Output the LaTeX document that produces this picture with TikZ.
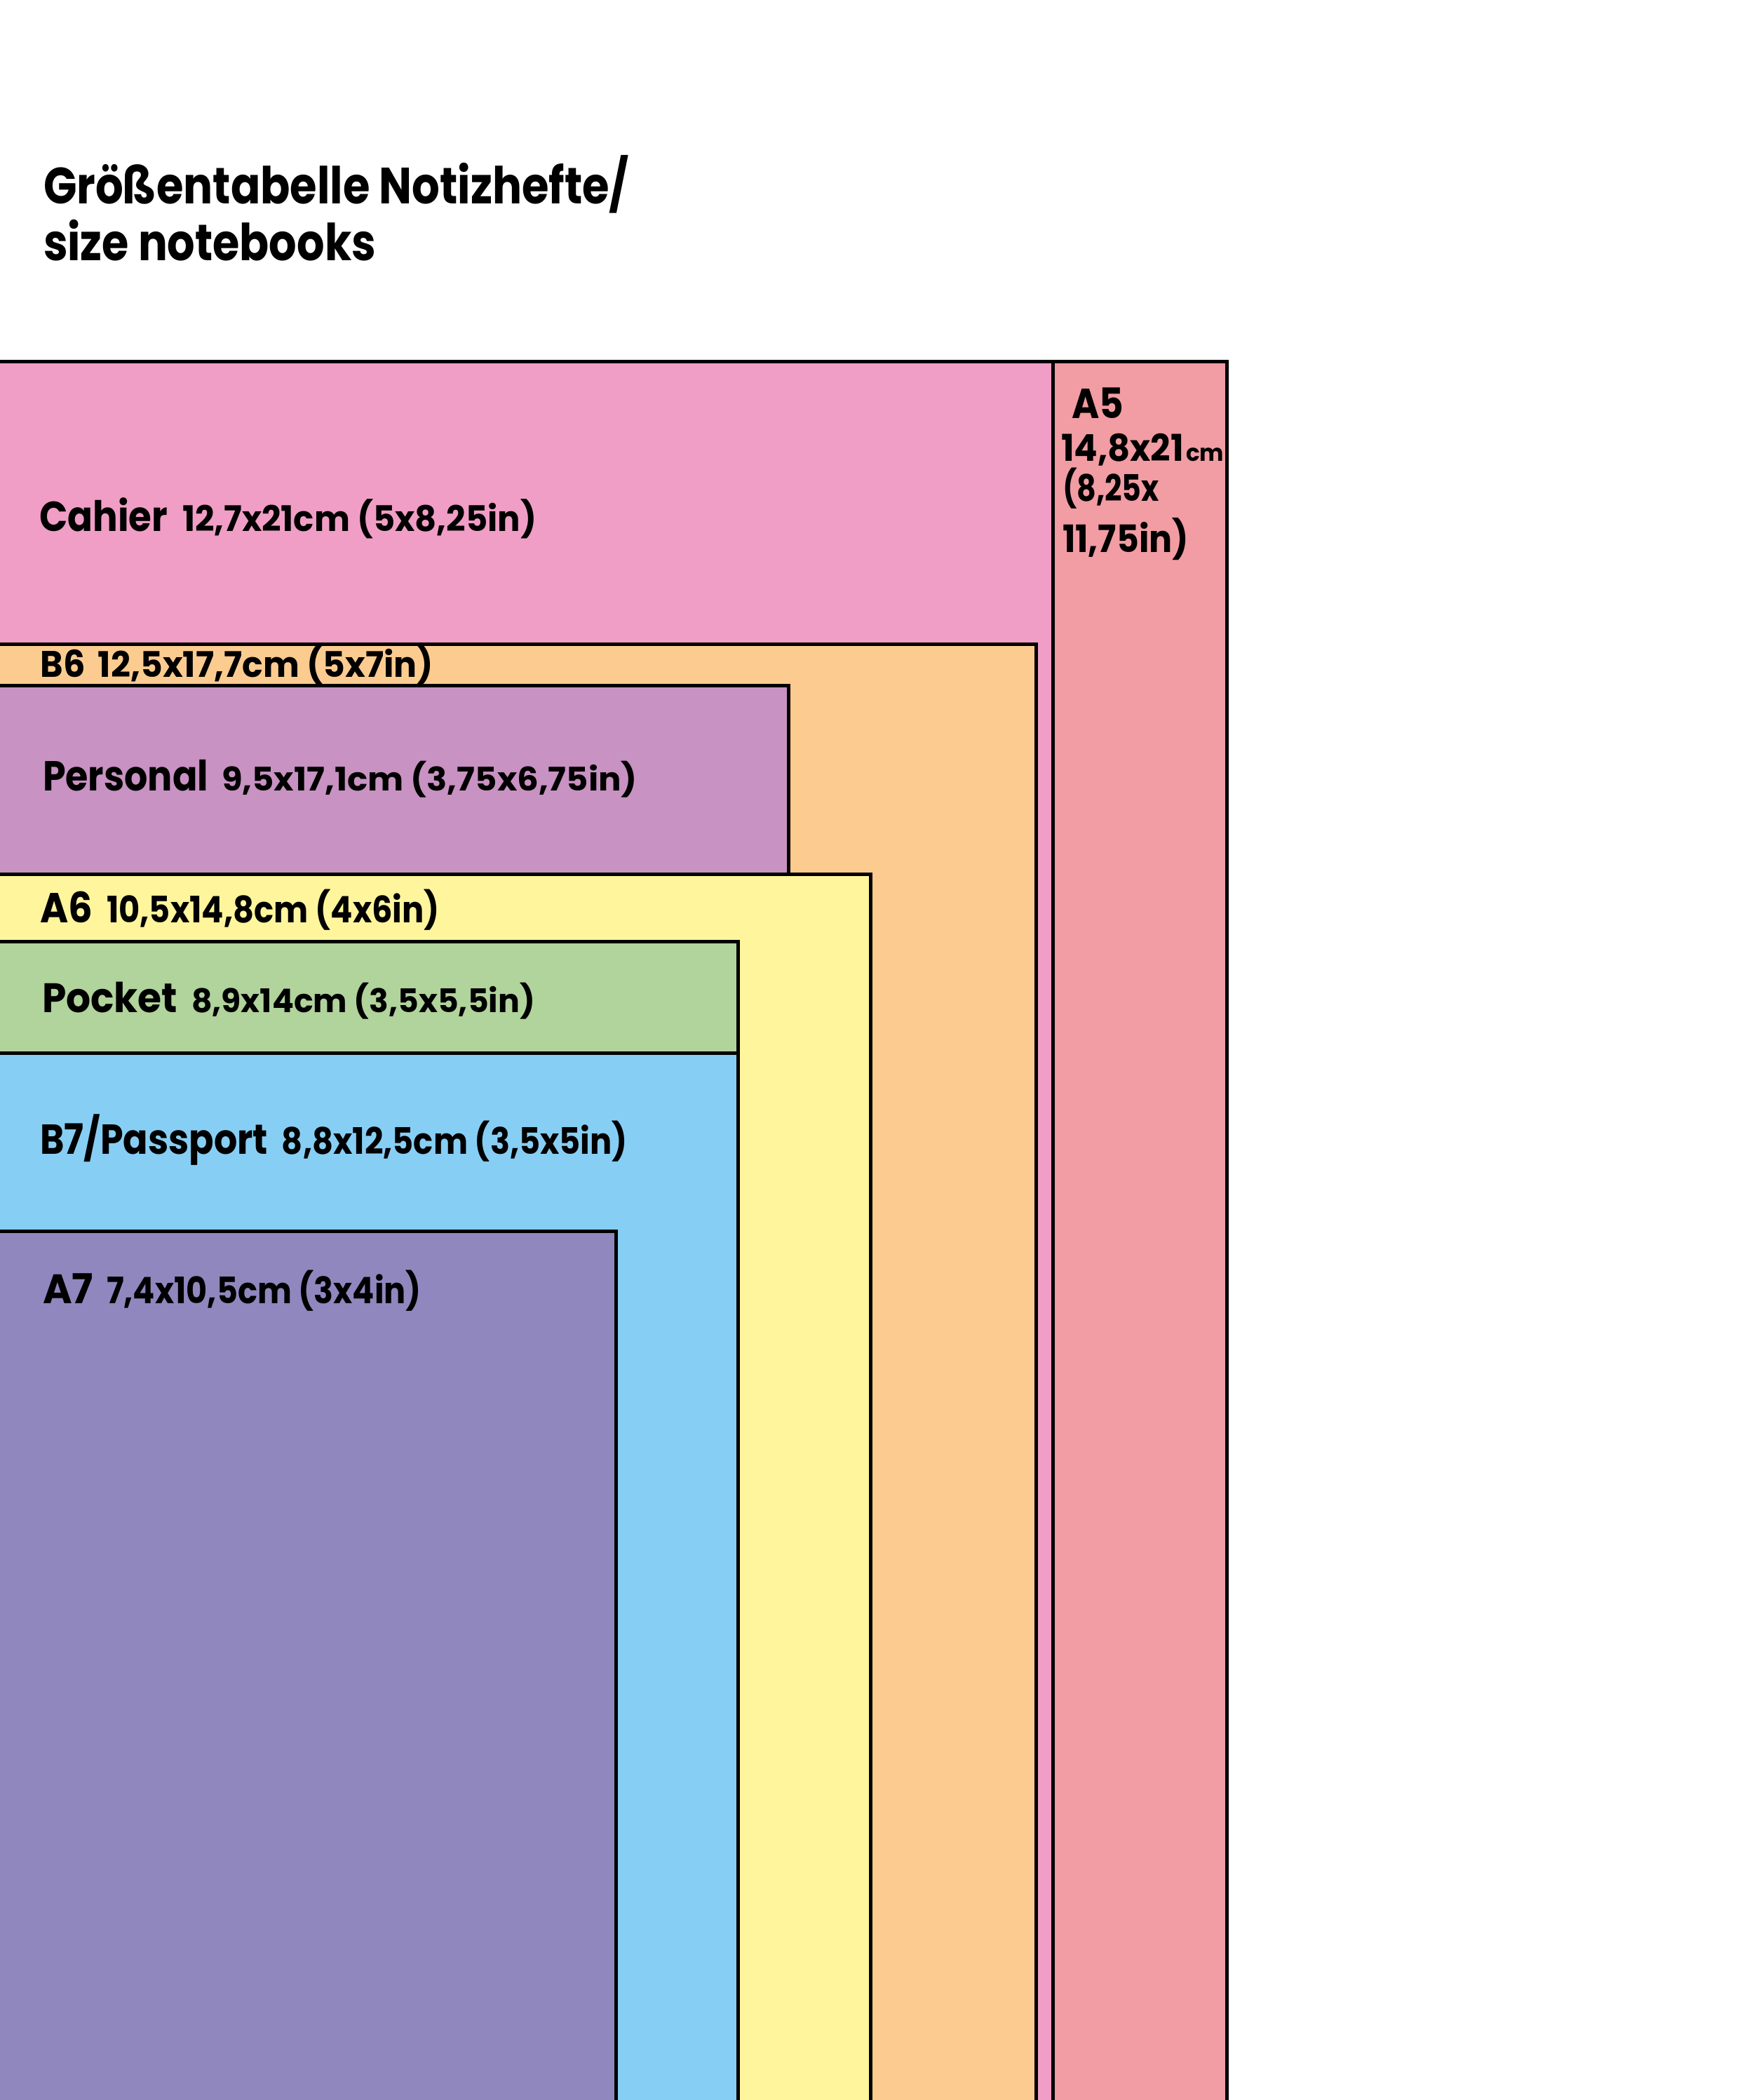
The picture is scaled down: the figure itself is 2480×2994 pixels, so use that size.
\documentclass[tikz,border=0pt]{standalone}
\usepackage{fontspec}
\setmainfont{Poppins}
\usepackage{graphicx}
\definecolor{cAfive}{HTML}{F29CA3}
\definecolor{cCahier}{HTML}{F09EC5}
\definecolor{cBsix}{HTML}{FCCB90}
\definecolor{cPersonal}{HTML}{C892C2}
\definecolor{cAsix}{HTML}{FFF59D}
\definecolor{cPocket}{HTML}{B1D39C}
\definecolor{cBseven}{HTML}{87CEF4}
\definecolor{cAseven}{HTML}{9087BF}
\newcommand\lblpart[3]{\resizebox{#1mm}{\height}{\fontsize{#2pt}{#2pt}\selectfont\bfseries #3}}
\begin{document}
\begin{tikzpicture}[x=0.1mm,y=-0.1mm,
  box/.style={draw=black,line width=0.5mm},
  lbl/.style={anchor=base west,inner sep=0pt,outer sep=0pt}]
\clip (0,0) rectangle (2480,2994);
\fill[white] (0,0) rectangle (2480,2994);
% sheets
\path[box,fill=cAfive]    (-20,515)  rectangle (1749,3020);
\path[box,fill=cCahier]   (-20,515)  rectangle (1501,3020);
\path[box,fill=cBsix]     (-20,918)  rectangle (1477,3020);
\path[box,fill=cPersonal] (-20,977)  rectangle (1124,1246);
\path[box,fill=cAsix]     (-20,1246) rectangle (1241,3020);
\path[box,fill=cBseven]   (-20,1501) rectangle (1052,3020);
\path[box,fill=cPocket]   (-20,1342) rectangle (1052,1501);
\path[box,fill=cAseven]   (-20,1755) rectangle (878,3020);
% title
\node[lbl] (tA) at (62,291) {\lblpart{83.5}{20.7}{Größentabelle Notizhefte/}};
\node[lbl] (tB) at (62,372) {\lblpart{47.4}{20.7}{size notebooks}};
% labels
\node[lbl] (lCahier) at (56,757) {\lblpart{18.3}{17}{Cahier}\hspace{2.1mm}\lblpart{50.5}{14.3}{12,7x21cm (5x8,25in)}};
\node[lbl] (lBsix) at (58,965) {\lblpart{6.4}{15}{B6}\hspace{1.8mm}\lblpart{47.8}{14.3}{12,5x17,7cm (5x7in)}};
\node[lbl] (lPersonal) at (61,1127) {\lblpart{23.6}{17}{Personal}\hspace{1.9mm}\lblpart{59.3}{13.2}{9,5x17,1cm (3,75x6,75in)}};
\node[lbl] (lAsix) at (57,1315) {\lblpart{7.5}{17}{A6}\hspace{2.0mm}\lblpart{47.5}{14.8}{10,5x14,8cm (4x6in)}};
\node[lbl] (lPocket) at (60,1443) {\lblpart{19.3}{16.7}{Pocket}\hspace{2.0mm}\lblpart{49.0}{13.2}{8,9x14cm (3,5x5,5in)}};
\node[lbl] (lBseven) at (57,1645) {\lblpart{32.5}{17}{B7/Passport}\hspace{2.0mm}\lblpart{49.3}{14.8}{8,8x12,5cm (3,5x5in)}};
\node[lbl] (lAseven) at (61,1858) {\lblpart{7.2}{16.7}{A7}\hspace{1.9mm}\lblpart{44.9}{14.8}{7,4x10,5cm (3x4in)}};
% A5
\node[lbl] (lAfiveA) at (1528,597) {\lblpart{7.4}{17}{A5}};
\node[lbl] (lAfiveB) at (1513,657) {\lblpart{17.5}{15}{14,8x21}\hspace{0.3mm}\lblpart{5.4}{9.5}{cm}};
\node[lbl] (lAfiveC) at (1515,714) {\lblpart{13.8}{14.8}{(8,25x}};
\node[lbl] (lAfiveD) at (1515,787) {\lblpart{18.0}{15.3}{11,75in)}};
\end{tikzpicture}
\end{document}
